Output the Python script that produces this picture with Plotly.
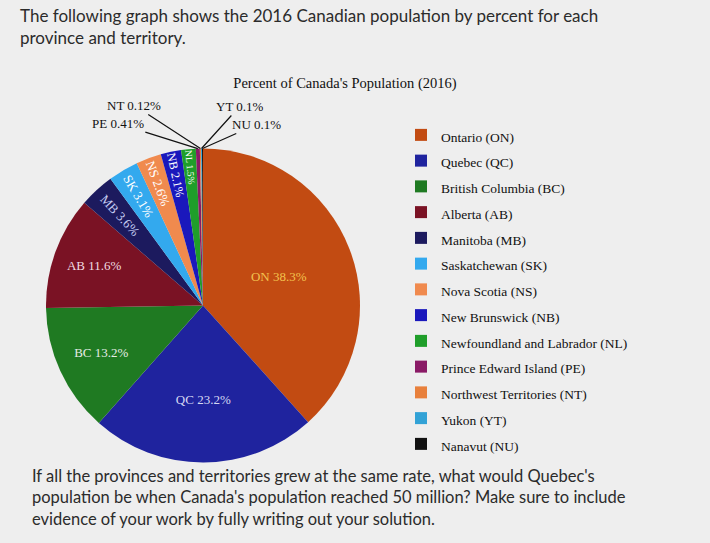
import math
import plotly.graph_objects as go

# 2016 share of Canada's population, by province / territory
names = ['Ontario (ON)', 'Quebec (QC)', 'British Columbia (BC)', 'Alberta (AB)',
         'Manitoba (MB)', 'Saskatchewan (SK)', 'Nova Scotia (NS)', 'New Brunswick (NB)',
         'Newfoundland and Labrador (NL)', 'Prince Edward Island (PE)',
         'Northwest Territories (NT)', 'Yukon (YT)', 'Nanavut (NU)']
abbr = ['ON', 'QC', 'BC', 'AB', 'MB', 'SK', 'NS', 'NB', 'NL', 'PE', 'NT', 'YT', 'NU']
percent = [38.3, 23.2, 13.2, 11.6, 3.6, 3.1, 2.6, 2.1, 1.5, 0.41, 0.12, 0.1, 0.1]

colors = ['#c24b12', '#1f239e', '#1f7a22', '#7a1224', '#1c1a5e', '#33a9ee', '#f08a4e',
          '#1a18bc', '#1f9e2a', '#8a1a66', '#e8803c', '#32a2d6', '#111111']
label_colors = ['#f2c24e', '#d6d8f2', '#e6ece6', '#f0dce0', '#c4cbf2', '#ffffff', '#ffffff',
                '#ffffff', '#ffffff', '#ffffff', '#ffffff', '#ffffff', '#ffffff']

# slices too thin for a label inside get one outside with a leader line
outside = ['PE', 'NT', 'YT', 'NU']
outside_offset = {'PE': (-80, -25), 'NT': (-66, -43), 'YT': (38, -42), 'NU': (54, -24)}

W, H = 710, 543
cx, cy, rad = 203, 305.5, 157

slice_text = []
for a, p in zip(abbr, percent):
    if a in outside:
        slice_text.append('')
    else:
        slice_text.append(a + ' ' + str(p) + '%')

serif = 'Liberation Serif, Times New Roman, serif'

fig = go.Figure(
    layout=dict(
        width=W,
        height=H,
        margin=dict(l=0, r=0, t=0, b=0),
        paper_bgcolor='#eeeeee',
        plot_bgcolor='#eeeeee',
        title=dict(text="Percent of Canada's Population (2016)", x=345 / W, y=1 - 83 / H,
                   xanchor='center', yanchor='middle',
                   font=dict(family=serif, size=14.5, color='#111111')),
        # big legend font only sets the row pitch, the names use a smaller span
        legend=dict(x=401 / W, y=1 - 117 / H, xanchor='left', yanchor='top',
                    bgcolor='rgba(0,0,0,0)', font=dict(family=serif, size=17.5, color='#111111')),
    ))

fig.add_trace(go.Pie(
    labels=["<span style='font-size:13.5px'>" + n + "</span>" for n in names],
    values=percent,
    text=slice_text,
    textinfo='text',
    textposition='inside',
    insidetextorientation='auto',
    textfont=dict(family=serif, size=13, color=label_colors),
    marker=dict(colors=colors, line=dict(width=0)),
    sort=False,
    direction='clockwise',
    rotation=0,
    hoverinfo='label+percent',
    domain=dict(x=[(cx - rad) / W, (cx + rad) / W], y=[(H - cy - rad) / H, (H - cy + rad) / H]),
))

# leader-line labels for the tiny slices, tip at the middle of each slice
total = sum(percent)
cum = 0
for a, p in zip(abbr, percent):
    mid = (cum + p / 2) / total * 2 * math.pi
    cum += p
    if a not in outside:
        continue
    tx = cx + rad * math.sin(mid)
    ty = cy - rad * math.cos(mid)
    fig.add_annotation(x=tx / W, y=1 - ty / H, xref='paper', yref='paper',
                       text=a + ' ' + str(p) + '%', showarrow=True, arrowhead=0,
                       arrowwidth=1.2, arrowcolor='#111111',
                       ax=outside_offset[a][0], ay=outside_offset[a][1],
                       font=dict(family=serif, size=13, color='#111111'))

# question text around the chart
sans = 'Lato, Open Sans, sans-serif'
fig.add_annotation(x=18 / W, y=1 - 3 / H, xref='paper', yref='paper', xanchor='left', yanchor='top',
                   align='left', showarrow=False,
                   text='The following graph shows the 2016 Canadian population by percent for each<br>'
                        'province and territory.',
                   font=dict(family=sans, size=17, color='#2b2b2b'))
fig.add_annotation(x=30 / W, y=1 - 464 / H, xref='paper', yref='paper', xanchor='left', yanchor='top',
                   align='left', showarrow=False,
                   text="If all the provinces and territories grew at the same rate, what would Quebec's<br>"
                        "population be when Canada's population reached 50 million? Make sure to include<br>"
                        'evidence of your work by fully writing out your solution.',
                   font=dict(family=sans, size=16.5, color='#2b2b2b'))

fig.write_html("out.html", config={'displayModeBar': False},
               post_script="document.body.style.margin='0px';")
